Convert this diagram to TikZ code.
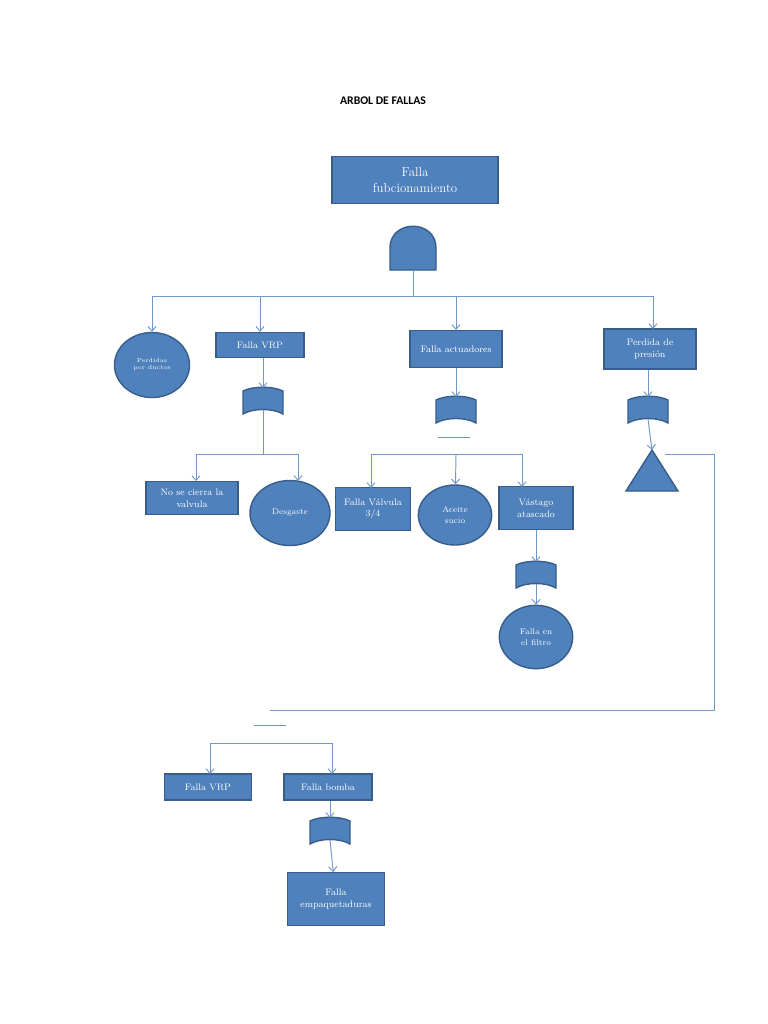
\documentclass[tikz,border=0pt]{standalone}
\usepackage{fontspec}
\newfontfamily\calib{Carlito}
\usetikzlibrary{shapes.geometric,arrows.meta}
\definecolor{boxfill}{HTML}{4F81BD}
\definecolor{boxline}{HTML}{385D8A}
\definecolor{wire}{HTML}{7196C8}
\begin{document}
\begin{tikzpicture}[x=0.03cm,y=-0.03cm,
  box/.style={draw=boxline,line width=1.2pt,fill=boxfill,text=white,align=center,inner sep=1pt,font=\fontsize{8}{10}\selectfont},
  circ/.style={ellipse,draw=boxline,line width=1.2pt,fill=boxfill,text=white,align=center,inner sep=0pt,font=\fontsize{7}{9}\selectfont},
  gshape/.style={draw=boxline,line width=1.2pt,fill=boxfill},
  wire/.style={draw=wire,line width=0.8pt},
  arr/.style={wire,-{Straight Barb[length=4pt,width=7pt]}},
  orgate/.pic={\path[gshape] (-20,3) .. controls (-10,-2) and (10,-2) .. (20,3) -- (20,26) .. controls (10,20) and (-10,20) .. (-20,26) -- cycle;
    \coordinate (-in) at (0,0); \coordinate (-out) at (0,22);},
  andgate/.pic={\path[gshape] (-23,44) -- (-23,22) .. controls (-23,-7) and (23,-7) .. (23,22) -- (23,44) -- cycle;
    \coordinate (-in) at (0,0); \coordinate (-out) at (0,44);}]
\useasboundingbox[fill=white] (0,0) rectangle (768,1024);

\node[font=\calib\fontsize{10}{12}\selectfont\bfseries] (title) at (383,101) {ARBOL DE FALLAS};

\node[box,minimum width=118\pgflinewidth,text width=3cm,font=\fontsize{11}{13}\selectfont,minimum height=1.4cm] (top) at (415,180) {Falla\\fubcionamiento};
\pic (g0) at (413,226) {andgate};

% first level
\node[circ,minimum width=2.25cm,minimum height=1.95cm,font=\fontsize{5}{6}\selectfont] (perd) at (152,365) {Perdidas\\por ductos};
\node[box,minimum width=2.64cm,minimum height=0.75cm] (vrp) at (260,345) {Falla VRP};
\node[box,minimum width=2.76cm,minimum height=1.1cm] (act) at (456,349) {Falla actuadores};
\node[box,minimum width=2.76cm,minimum height=1.2cm] (pres) at (650,349) {Perdida de\\presi\'on};
\coordinate (j0) at (413,296);
\draw[wire] (g0-out) -- (j0);
\draw[wire] (152,296) -- (653,296);
\draw[arr] (152,296) -- (perd);
\draw[arr] (260,296) -- (vrp);
\draw[arr] (456,296) -- (act);
\draw[arr] (653,296) -- (653,329);

% Falla VRP branch
\pic (g1) at (263,388) {orgate};
\draw[arr] (vrp.south -| g1-in) -- (g1-in);
\coordinate (j1) at (263,454);
\draw[wire] (g1-out) -- (j1);
\node[box,minimum width=2.76cm,minimum height=1.0cm] (cierra) at (192,498) {No se cierra la\\valvula};
\node[circ,minimum width=2.4cm,minimum height=1.95cm] (desg) at (290,513) {Desgaste};
\draw[wire] (196,454) -- (298,454);
\draw[arr] (196,454) -- (196,481);
\draw[arr] (298,454) -- (298,481);

% Falla actuadores branch
\pic (g2) at (456,397) {orgate};
\draw[arr] (act) -- (g2-in);
\draw[wire] (438,437) -- (470,437);
\node[box,minimum width=2.25cm,minimum height=1.29cm] (valv) at (373,509) {Falla V\'alvula\\3/4};
\node[circ,minimum width=2.2cm,minimum height=1.8cm] (aceite) at (455,515) {Aceite\\sucio};
\node[box,minimum width=2.22cm,minimum height=1.29cm] (vast) at (536,508) {V\'astago\\atascado};
\draw[wire] (371,454) -- (522,454);
\draw[arr] (371,454) -- (371,488);
\draw[arr] (456,454) -- (aceite);
\draw[arr] (522,454) -- (522,487);
\pic (g3) at (536,562) {orgate};
\draw[arr] (vast.south -| g3-in) -- (g3-in);
\node[circ,minimum width=2.2cm,minimum height=1.9cm] (filtro) at (536,637) {Falla en\\el filtro};
\draw[arr] (g3-out) -- (filtro);

% Perdida de presion branch
\pic (g4) at (648,397) {orgate};
\draw[arr] (pres.south -| g4-in) -- (g4-in);
\path[gshape] (652,450) -- (678,491) -- (626,491) -- cycle;
\coordinate (tri) at (652,450);
\draw[arr] (g4-out) -- (tri);
\coordinate (t1) at (665,454);
\coordinate (t2) at (714,710);
\coordinate (t3) at (270,710);
\draw[wire] (t1) -- (t1 -| t2) -- (t2) -- (t3);
\draw[wire] (254,725) -- (286,725);

% transfer subtree
\node[box,minimum width=2.6cm,minimum height=0.78cm] (vrp2) at (208,787) {Falla VRP};
\node[box,minimum width=2.64cm,minimum height=0.78cm] (bomba) at (328,787) {Falla bomba};
\draw[wire] (210,743) -- (332,743);
\draw[arr] (210,743) -- (210,774);
\draw[arr] (332,743) -- (332,774);
\pic (g5) at (330,818) {orgate};
\draw[arr] (bomba.south -| g5-in) -- (g5-in);
\node[box,minimum width=2.9cm,minimum height=1.58cm] (emp) at (336,899) {Falla\\empaquetaduras};
\draw[arr] (g5-out) -- (emp);
\end{tikzpicture}
\end{document}
